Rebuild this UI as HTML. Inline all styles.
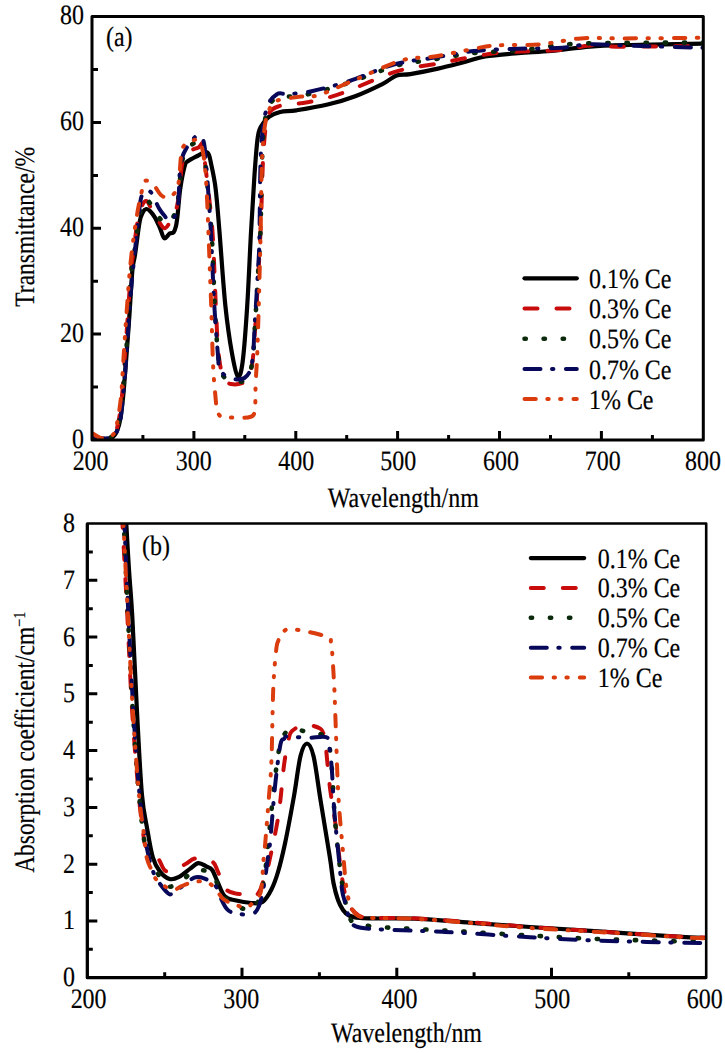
<!DOCTYPE html>
<html><head><meta charset="utf-8"><style>
html,body{margin:0;padding:0;background:#fff;width:725px;height:1053px;overflow:hidden}
svg{display:block}
text{font-family:"Liberation Serif", serif;fill:#000;stroke:#000;stroke-width:0.2px;text-rendering:geometricPrecision}
</style></head><body>
<svg width="725" height="1053" viewBox="0 0 725 1053">
<defs>
<clipPath id="ca"><rect x="92" y="17" width="611" height="423"/></clipPath>
<clipPath id="cb"><rect x="87.5" y="523.5" width="618" height="454"/></clipPath>
</defs>
<path d="M92.0,436.0 C93.7,436.5 98.5,438.8 102.0,439.0 C105.5,439.2 110.2,439.3 113.0,437.0 C115.8,434.7 117.3,431.5 119.0,425.0 C120.7,418.5 121.8,409.7 123.0,398.0 C124.2,386.3 125.4,369.0 126.5,355.0 C127.6,341.0 128.5,328.2 129.5,314.0 C130.5,299.8 131.5,279.8 132.4,270.0 C133.3,260.2 133.8,263.0 135.0,255.0 C136.2,247.0 138.3,229.2 139.6,222.0 C140.9,214.8 141.9,214.2 143.0,212.0 C144.1,209.8 145.1,209.2 146.3,209.0 C147.5,208.8 148.6,209.6 150.0,211.0 C151.4,212.4 153.3,214.8 155.0,217.6 C156.7,220.4 158.4,224.6 160.0,228.0 C161.6,231.4 162.7,237.3 164.3,238.2 C165.9,239.1 168.1,234.6 169.6,233.6 C171.1,232.6 172.5,233.6 173.6,232.3 C174.7,231.0 175.3,228.9 176.0,226.0 C176.7,223.1 176.9,221.3 177.6,215.0 C178.3,208.7 179.1,196.6 180.3,188.4 C181.5,180.2 183.5,170.2 184.8,165.6 C186.1,161.0 185.9,162.7 188.2,161.0 C190.5,159.3 196.2,156.6 198.5,155.3 C200.8,154.1 200.7,154.1 202.0,153.5 C203.3,152.9 205.3,151.8 206.5,152.0 C207.7,152.2 208.2,153.1 209.0,155.0 C209.8,156.9 209.9,157.7 211.0,163.3 C212.1,168.9 214.2,177.0 215.6,188.4 C217.0,199.8 217.9,212.4 219.5,232.0 C221.1,251.6 223.3,285.8 225.4,306.0 C227.5,326.2 229.9,341.7 232.0,353.4 C234.1,365.1 235.9,374.6 237.7,376.2 C239.4,377.8 240.9,374.6 242.5,362.9 C244.1,351.2 245.8,327.8 247.2,306.0 C248.6,284.2 249.8,253.9 251.0,232.0 C252.2,210.1 253.4,190.5 254.5,174.8 C255.6,159.1 256.6,145.8 257.7,137.7 C258.8,129.6 259.1,130.0 261.0,126.5 C262.9,123.0 265.8,119.2 269.0,116.8 C272.2,114.4 275.7,113.1 280.3,112.0 C284.9,110.9 288.6,111.5 296.5,110.3 C304.4,109.0 317.8,106.8 327.6,104.5 C337.4,102.2 346.0,99.7 355.2,96.2 C364.4,92.8 375.9,87.2 382.8,83.8 C389.7,80.3 392.0,77.1 396.6,75.5 C401.2,73.9 403.4,75.2 410.3,74.1 C417.2,72.9 428.7,70.7 437.9,68.6 C447.1,66.5 457.6,63.7 465.5,61.7 C473.4,59.7 476.4,57.9 485.2,56.5 C494.0,55.1 507.3,54.1 518.3,53.2 C529.3,52.3 539.4,52.1 551.4,51.0 C563.4,49.9 576.9,47.6 590.0,46.6 C603.1,45.6 611.2,45.5 630.0,45.0 C648.8,44.5 690.8,43.8 703.0,43.6" fill="none" stroke="#000000" stroke-width="4.2" stroke-linecap="round" stroke-linejoin="round" clip-path="url(#ca)"/>
<path d="M92.0,434.0 C93.7,434.8 98.5,438.2 102.0,438.5 C105.5,438.8 110.3,438.4 113.0,436.0 C115.7,433.6 116.5,430.7 118.0,424.0 C119.5,417.3 120.8,407.5 122.0,396.0 C123.2,384.5 124.0,368.8 125.0,355.0 C126.0,341.2 127.0,327.2 128.0,313.0 C129.0,298.8 130.2,279.7 131.0,270.0 C131.8,260.3 132.0,262.5 133.0,255.0 C134.0,247.5 135.7,232.8 137.0,225.0 C138.3,217.2 139.4,212.0 141.0,208.0 C142.6,204.0 144.5,200.7 146.3,201.0 C148.1,201.3 150.1,206.8 152.0,210.0 C153.9,213.2 155.9,216.9 158.0,220.0 C160.1,223.1 162.3,228.0 164.3,228.3 C166.3,228.6 168.1,225.1 170.0,222.0 C171.9,218.9 174.5,214.7 176.0,210.0 C177.5,205.3 178.0,201.5 179.0,194.0 C180.0,186.5 180.8,171.8 182.0,165.0 C183.2,158.2 183.2,155.9 186.0,153.0 C188.8,150.1 195.7,148.9 198.5,147.4 C201.3,145.9 201.9,141.0 203.0,144.0 C204.1,147.0 204.1,155.3 205.3,165.6 C206.5,175.8 208.7,193.1 210.0,205.5 C211.3,217.9 212.0,222.6 213.0,240.0 C214.0,257.4 215.1,291.2 216.0,310.0 C216.9,328.8 217.3,342.0 218.5,353.0 C219.7,364.0 220.9,370.8 223.0,376.0 C225.1,381.2 227.1,383.2 231.0,384.0 C234.9,384.8 242.7,384.2 246.2,381.0 C249.7,377.8 250.5,373.5 252.0,365.0 C253.5,356.5 254.0,344.2 255.0,330.0 C256.0,315.8 257.0,298.3 258.0,280.0 C259.0,261.7 260.2,240.0 261.0,220.0 C261.8,200.0 262.2,175.6 263.0,160.0 C263.8,144.4 264.7,134.5 265.8,126.5 C266.9,118.5 267.7,115.4 269.8,112.0 C271.9,108.6 275.1,107.6 278.7,106.3 C282.3,105.0 286.8,104.6 291.6,103.9 C296.4,103.2 299.4,104.0 307.7,102.3 C316.0,100.5 326.6,98.6 341.4,93.4 C356.2,88.2 380.0,76.5 396.6,71.4 C413.2,66.4 428.1,65.6 441.0,63.1 C453.9,60.6 463.1,58.3 474.1,56.5 C485.1,54.7 492.5,53.2 507.2,52.1 C521.9,51.0 548.6,51.0 562.4,49.9 C576.2,48.8 580.1,45.9 590.0,45.4 C599.9,44.9 603.2,46.7 622.0,46.7 C640.8,46.8 689.5,45.9 703.0,45.7" fill="none" stroke="#c80c0c" stroke-width="4.0" stroke-linecap="round" stroke-linejoin="round" stroke-dasharray="13 19" clip-path="url(#ca)"/>
<path d="M92.0,434.5 C93.7,435.2 98.5,438.2 102.0,438.5 C105.5,438.8 110.2,438.4 113.0,436.0 C115.8,433.6 116.9,430.7 118.5,424.0 C120.1,417.3 121.2,407.5 122.5,396.0 C123.8,384.5 125.0,368.8 126.0,355.0 C127.0,341.2 127.9,326.8 128.7,313.5 C129.5,300.2 130.1,284.8 131.0,275.0 C131.9,265.2 132.8,263.3 134.0,255.0 C135.2,246.7 136.7,233.3 138.0,225.0 C139.3,216.7 140.6,209.2 142.0,205.0 C143.4,200.8 144.6,199.4 146.3,199.6 C148.0,199.8 149.7,202.8 152.0,206.0 C154.3,209.2 157.6,216.2 160.3,219.0 C163.0,221.8 165.4,224.3 168.0,223.0 C170.6,221.7 174.2,216.2 176.0,211.0 C177.8,205.8 178.0,200.2 179.0,192.0 C180.0,183.8 180.5,169.3 182.0,162.0 C183.5,154.7 185.4,151.4 188.0,148.0 C190.6,144.6 194.9,142.7 197.4,141.7 C199.9,140.7 201.7,138.1 203.0,142.0 C204.3,145.9 204.5,155.0 205.5,165.0 C206.5,175.0 207.9,189.5 209.0,202.0 C210.1,214.5 211.0,222.0 212.0,240.0 C213.0,258.0 214.0,291.2 215.0,310.0 C216.0,328.8 216.8,342.3 218.0,353.0 C219.2,363.7 219.7,369.3 222.0,374.0 C224.3,378.7 228.2,380.0 232.0,381.0 C235.8,382.0 241.7,382.8 245.0,380.0 C248.3,377.2 250.3,373.2 252.0,364.0 C253.7,354.8 254.0,339.8 255.0,325.0 C256.0,310.2 257.1,290.8 258.0,275.0 C258.9,259.2 259.8,249.2 260.5,230.0 C261.2,210.8 261.1,179.2 262.0,160.0 C262.9,140.8 263.5,125.4 266.0,115.0 C268.5,104.6 271.3,100.6 277.0,97.4 C282.7,94.2 288.7,98.2 300.0,96.0 C311.3,93.8 329.2,89.0 345.0,84.0 C360.8,79.0 380.8,70.0 395.0,66.0 C409.2,62.0 416.8,62.2 430.0,60.0 C443.2,57.8 459.4,54.6 474.1,53.0 C488.8,51.4 500.5,52.1 518.3,50.5 C536.1,48.9 549.9,44.9 580.7,43.6 C611.5,42.3 682.6,42.8 703.0,42.6" fill="none" stroke="#0b2a0b" stroke-width="4.6" stroke-linecap="round" stroke-linejoin="round" stroke-dasharray="1.3 17.8" clip-path="url(#ca)"/>
<path d="M92.0,435.0 C93.7,435.6 98.5,438.3 102.0,438.5 C105.5,438.7 110.1,438.4 113.0,436.0 C115.9,433.6 117.9,430.6 119.6,424.0 C121.3,417.4 121.8,407.9 123.0,396.4 C124.2,384.9 125.5,368.8 126.5,355.0 C127.5,341.2 128.4,324.6 129.2,313.8 C129.9,303.0 130.2,299.0 131.0,290.0 C131.8,281.0 133.0,269.7 134.0,260.0 C135.0,250.3 135.8,242.3 137.0,232.0 C138.2,221.7 139.5,204.8 141.0,198.3 C142.5,191.8 144.3,194.0 146.0,193.0 C147.7,192.0 148.8,189.8 151.0,192.3 C153.2,194.9 156.8,204.5 159.0,208.3 C161.2,212.1 162.2,213.0 164.0,215.0 C165.8,217.0 167.3,221.4 169.6,220.3 C171.9,219.2 175.6,218.4 177.6,208.3 C179.6,198.2 178.5,171.9 181.4,160.0 C184.3,148.1 191.8,140.8 195.0,137.0 C198.2,133.2 199.3,135.8 200.8,137.0 C202.3,138.2 203.2,138.7 204.2,144.0 C205.1,149.3 205.7,159.7 206.5,169.0 C207.3,178.3 208.1,189.0 208.8,199.8 C209.6,210.6 210.1,217.3 211.0,234.0 C211.9,250.7 212.9,280.2 214.0,300.0 C215.1,319.8 216.8,341.4 217.8,353.0 C218.8,364.6 218.0,365.3 220.0,369.5 C222.0,373.7 225.9,376.6 230.0,378.0 C234.1,379.4 240.7,380.5 244.4,378.0 C248.1,375.5 250.2,372.7 252.0,363.0 C253.8,353.3 254.0,335.5 255.0,320.0 C256.0,304.5 257.3,283.3 258.0,270.0 C258.7,256.7 258.9,259.9 259.4,240.0 C259.9,220.1 259.8,172.5 261.0,150.6 C262.2,128.7 263.9,118.1 266.6,108.7 C269.3,99.3 273.4,96.6 277.0,94.2 C280.6,91.8 282.5,94.7 288.4,94.2 C294.3,93.7 302.4,93.2 312.6,91.0 C322.8,88.8 336.2,85.4 349.7,81.0 C363.2,76.6 379.7,68.4 393.8,64.5 C407.9,60.6 421.0,59.9 434.4,57.6 C447.8,55.4 460.1,52.5 474.1,51.0 C488.1,49.5 503.6,49.3 518.3,48.8 C533.0,48.2 550.4,48.5 562.4,47.7 C574.4,47.0 578.3,44.6 590.0,44.3 C601.7,44.0 613.6,45.1 632.4,45.7 C651.2,46.3 691.2,47.4 703.0,47.8" fill="none" stroke="#08085a" stroke-width="4.0" stroke-linecap="round" stroke-linejoin="round" stroke-dasharray="16 11.5 1.4 12.5" clip-path="url(#ca)"/>
<path d="M92.0,433.0 C93.7,433.9 98.8,438.2 102.4,438.4 C106.0,438.6 111.0,436.7 113.4,434.3 C115.8,431.9 115.6,430.3 116.9,424.0 C118.2,417.7 119.9,407.9 121.0,396.4 C122.1,384.9 122.8,368.8 123.7,355.0 C124.6,341.2 125.6,326.3 126.5,313.8 C127.4,301.3 128.1,290.6 129.0,280.0 C129.9,269.4 130.7,260.8 132.0,250.0 C133.3,239.2 135.5,224.2 137.0,215.0 C138.5,205.8 139.7,200.7 141.0,195.0 C142.3,189.3 142.9,182.7 145.0,181.0 C147.1,179.3 150.9,182.7 153.6,185.0 C156.2,187.3 158.4,192.9 160.9,195.0 C163.4,197.1 165.8,198.3 168.3,197.6 C170.9,196.9 174.4,193.9 176.2,191.0 C178.0,188.1 177.9,187.1 179.0,180.0 C180.1,172.9 180.2,155.1 182.5,148.5 C184.8,141.9 189.9,141.6 192.8,140.5 C195.7,139.4 198.1,138.8 200.0,142.0 C201.9,145.2 203.1,152.3 204.2,160.0 C205.3,167.7 205.8,176.1 206.5,188.4 C207.2,200.7 207.8,215.4 208.5,234.0 C209.2,252.6 210.2,278.5 211.0,300.0 C211.8,321.5 212.3,347.8 213.0,363.0 C213.7,378.2 214.2,383.2 215.0,391.4 C215.8,399.6 216.1,408.0 217.8,412.3 C219.5,416.6 220.0,416.2 225.4,417.0 C230.8,417.8 245.1,418.4 250.0,417.0 C254.9,415.6 253.9,414.3 254.8,408.5 C255.8,402.7 255.2,392.8 255.7,382.0 C256.2,371.2 256.8,368.1 257.6,344.0 C258.4,319.9 259.8,268.3 260.5,237.6 C261.2,206.9 261.2,178.8 262.0,160.0 C262.8,141.2 263.7,133.7 265.0,125.0 C266.3,116.3 268.0,112.1 270.0,108.0 C272.0,103.9 271.8,102.5 277.0,100.6 C282.2,98.7 294.3,97.5 301.3,96.6 C308.3,95.7 310.0,97.8 319.0,95.0 C328.0,92.2 341.4,85.5 355.2,79.7 C369.0,73.9 388.8,64.2 402.0,60.3 C415.2,56.4 422.4,58.4 434.4,56.5 C446.4,54.6 463.8,50.6 474.1,48.8 C484.4,46.9 485.1,46.1 496.2,45.4 C507.2,44.6 526.3,45.5 540.4,44.3 C554.5,43.1 567.1,39.4 580.7,38.4 C594.3,37.4 601.6,38.5 622.0,38.4 C642.4,38.3 689.5,37.9 703.0,37.8" fill="none" stroke="#db3c0e" stroke-width="4.0" stroke-linecap="round" stroke-linejoin="round" stroke-dasharray="11.3 11.5 1.4 11.4 1.4 12" clip-path="url(#ca)"/>
<rect x="92.0" y="16.6" width="611.3" height="423.4" fill="none" stroke="#000" stroke-width="3" stroke-linejoin="round"/>
<path d="M142.9,440.0 V435.0 M193.9,440.0 V431.0 M244.8,440.0 V435.0 M295.8,440.0 V431.0 M346.7,440.0 V435.0 M397.6,440.0 V431.0 M448.6,440.0 V435.0 M499.5,440.0 V431.0 M550.5,440.0 V435.0 M601.4,440.0 V431.0 M652.4,440.0 V435.0 M92.0,387.1 H98.0 M92.0,334.1 H101.0 M92.0,281.2 H98.0 M92.0,228.3 H101.0 M92.0,175.4 H98.0 M92.0,122.4 H101.0 M92.0,69.5 H98.0" stroke="#000" stroke-width="3" fill="none"/>
<text transform="translate(84.00,447.80) scale(0.855,1)" text-anchor="end" font-size="28">0</text>
<text transform="translate(84.00,341.95) scale(0.855,1)" text-anchor="end" font-size="28">20</text>
<text transform="translate(84.00,236.10) scale(0.855,1)" text-anchor="end" font-size="28">40</text>
<text transform="translate(84.00,130.25) scale(0.855,1)" text-anchor="end" font-size="28">60</text>
<text transform="translate(84.00,24.40) scale(0.855,1)" text-anchor="end" font-size="28">80</text>
<text transform="translate(90.60,470.30) scale(0.855,1)" text-anchor="middle" font-size="28">200</text>
<text transform="translate(193.80,470.30) scale(0.855,1)" text-anchor="middle" font-size="28">300</text>
<text transform="translate(296.20,470.30) scale(0.855,1)" text-anchor="middle" font-size="28">400</text>
<text transform="translate(398.30,470.30) scale(0.855,1)" text-anchor="middle" font-size="28">500</text>
<text transform="translate(501.00,470.30) scale(0.855,1)" text-anchor="middle" font-size="28">600</text>
<text transform="translate(602.70,470.30) scale(0.855,1)" text-anchor="middle" font-size="28">700</text>
<text transform="translate(703.00,470.30) scale(0.855,1)" text-anchor="middle" font-size="28">800</text>
<text transform="translate(403.30,507.40) scale(0.855,1)" text-anchor="middle" font-size="28">Wavelength/nm</text>
<text transform="translate(34,226.8) rotate(-90) scale(0.84,1)" text-anchor="middle" font-size="28">Transmittance/%</text>
<text transform="translate(106.00,46.20) scale(0.855,1)" text-anchor="start" font-size="28">(a)</text>
<path d="M524.5,278.3 H576.8" stroke="#000000" stroke-width="4.2" stroke-linecap="round" fill="none"/>
<text transform="translate(589.00,288.00) scale(0.855,1)" text-anchor="start" font-size="28">0.1% Ce</text>
<path d="M524.5,308.5 H576.8" stroke="#c80c0c" stroke-width="4.0" stroke-linecap="round" stroke-dasharray="13 19" fill="none"/>
<text transform="translate(589.00,318.20) scale(0.855,1)" text-anchor="start" font-size="28">0.3% Ce</text>
<path d="M524.5,338.7 H576.8" stroke="#0b2a0b" stroke-width="4.6" stroke-linecap="round" stroke-dasharray="1.3 17.8" fill="none"/>
<text transform="translate(589.00,348.40) scale(0.855,1)" text-anchor="start" font-size="28">0.5% Ce</text>
<path d="M524.5,368.9 H576.8" stroke="#08085a" stroke-width="4.0" stroke-linecap="round" stroke-dasharray="16 11.5 1.4 12.5" fill="none"/>
<text transform="translate(589.00,378.60) scale(0.855,1)" text-anchor="start" font-size="28">0.7% Ce</text>
<path d="M524.5,399.1 H576.8" stroke="#db3c0e" stroke-width="4.0" stroke-linecap="round" stroke-dasharray="11.3 11.5 1.4 11.4 1.4 12" fill="none"/>
<text transform="translate(589.00,408.80) scale(0.855,1)" text-anchor="start" font-size="28">1% Ce</text>
<path d="M125.8,515.0 C126.3,524.2 127.9,553.0 129.0,570.0 C130.1,587.0 131.0,592.9 132.3,616.8 C133.7,640.7 135.5,683.9 137.1,713.5 C138.7,743.1 140.2,774.8 141.9,794.2 C143.6,813.6 145.6,819.4 147.4,830.0 C149.2,840.6 150.8,850.7 152.9,857.6 C155.0,864.5 157.0,867.8 159.8,871.4 C162.6,875.0 166.3,878.1 169.5,879.0 C172.7,879.9 175.7,878.6 179.1,876.9 C182.5,875.2 187.0,870.9 190.2,868.6 C193.4,866.3 195.7,863.4 198.4,863.1 C201.2,862.8 204.4,865.5 206.7,866.6 C209.0,867.8 210.3,867.4 212.2,870.0 C214.0,872.6 215.7,878.0 217.8,882.4 C219.9,886.8 221.8,893.2 224.7,896.2 C227.6,899.2 230.5,899.2 235.0,900.3 C239.5,901.4 246.9,902.7 251.5,903.0 C256.1,903.3 259.2,904.1 262.5,901.9 C265.8,899.7 268.7,894.7 271.3,889.7 C273.9,884.7 275.7,879.7 278.0,872.0 C280.3,864.3 282.3,856.2 285.0,843.5 C287.7,830.8 291.4,810.6 294.0,796.0 C296.6,781.4 298.3,764.8 300.5,756.0 C302.7,747.2 304.8,743.5 307.0,743.5 C309.2,743.5 311.2,746.6 313.5,756.0 C315.8,765.4 317.8,783.2 320.5,800.0 C323.2,816.8 327.6,843.0 329.8,856.8 C332.0,870.6 332.1,875.8 333.5,883.0 C334.9,890.2 336.4,895.5 338.0,900.0 C339.6,904.5 341.2,907.4 343.0,910.0 C344.8,912.6 346.2,914.2 349.0,915.5 C351.8,916.8 354.8,917.5 360.0,918.0 C365.2,918.5 370.2,918.4 380.0,918.5 C389.8,918.6 403.4,918.1 418.6,918.8 C433.8,919.5 452.4,921.4 471.0,922.8 C489.6,924.2 508.7,925.6 530.0,927.0 C551.3,928.4 574.1,929.8 598.6,931.4 C623.1,933.0 659.3,935.6 677.2,936.7 C695.1,937.8 701.2,937.8 706.0,938.0" fill="none" stroke="#000000" stroke-width="4.2" stroke-linecap="round" stroke-linejoin="round" clip-path="url(#cb)"/>
<path d="M122.0,515.0 C122.9,532.0 125.7,583.7 127.4,616.8 C129.1,649.9 130.4,683.9 132.3,713.5 C134.2,743.1 136.9,774.1 138.7,794.2 C140.5,814.3 142.1,825.3 143.3,834.0 C144.5,842.7 143.5,842.4 146.0,846.6 C148.5,850.8 155.0,854.9 158.4,859.0 C161.8,863.1 162.3,870.5 166.7,871.4 C171.1,872.3 179.9,866.7 184.7,864.5 C189.5,862.3 191.1,858.8 195.7,858.3 C200.3,857.8 208.5,859.5 212.2,861.7 C215.9,863.9 215.7,867.0 217.8,871.4 C219.9,875.8 221.8,884.3 224.7,888.0 C227.6,891.7 231.6,892.4 235.0,893.4 C238.4,894.4 242.2,893.5 245.3,894.0 C248.4,894.5 251.2,897.0 253.7,896.3 C256.2,895.6 258.1,894.5 260.3,889.7 C262.5,884.9 265.4,872.2 266.9,867.7 C268.3,863.2 267.1,871.3 269.0,862.5 C270.9,853.7 276.0,831.5 278.5,815.0 C281.0,798.5 282.5,776.2 284.2,763.7 C285.9,751.2 287.2,745.5 288.5,740.0 C289.8,734.5 289.2,733.5 292.0,731.0 C294.8,728.5 300.4,725.2 305.1,724.8 C309.8,724.4 317.2,726.7 320.3,728.6 C323.4,730.5 323.1,732.7 324.0,736.0 C324.9,739.3 325.0,740.1 326.0,748.5 C327.0,756.9 328.2,773.8 329.8,786.5 C331.4,799.2 333.6,810.2 335.5,824.5 C337.4,838.8 339.3,859.3 341.2,872.0 C343.1,884.7 344.4,893.5 346.9,900.5 C349.4,907.5 353.4,911.0 356.4,913.8 C359.4,916.6 361.1,916.8 365.0,917.5 C368.9,918.2 371.1,917.8 380.0,918.0 C388.9,918.2 403.4,917.8 418.6,918.5 C433.8,919.2 452.4,920.9 471.0,922.3 C489.6,923.7 508.7,925.5 530.0,927.0 C551.3,928.5 574.1,929.8 598.6,931.4 C623.1,933.0 659.3,935.5 677.2,936.5 C695.1,937.5 701.2,937.3 706.0,937.5" fill="none" stroke="#c80c0c" stroke-width="4.0" stroke-linecap="round" stroke-linejoin="round" stroke-dasharray="13 19" clip-path="url(#cb)"/>
<path d="M123.5,515.0 C124.2,532.0 126.4,583.7 128.0,616.8 C129.6,649.9 131.2,683.9 133.0,713.5 C134.8,743.1 136.8,771.5 139.0,794.2 C141.2,817.0 143.2,837.6 146.0,850.0 C148.8,862.4 152.5,862.6 155.7,868.6 C158.9,874.6 161.4,883.5 165.3,885.9 C169.2,888.3 174.2,885.6 179.1,883.1 C184.0,880.6 189.5,872.2 195.0,870.7 C200.5,869.2 207.7,870.1 212.2,874.1 C216.7,878.1 218.2,889.9 222.0,895.0 C225.8,900.1 230.3,902.5 235.0,905.0 C239.7,907.5 246.2,910.5 250.0,910.0 C253.8,909.5 255.7,907.0 258.0,902.0 C260.3,897.0 262.3,889.5 264.0,880.0 C265.7,870.5 266.3,860.5 268.0,845.0 C269.7,829.5 272.0,803.5 274.0,787.0 C276.0,770.5 277.4,755.5 280.0,746.0 C282.6,736.5 284.7,732.0 289.4,729.7 C294.1,727.4 302.2,731.0 308.3,732.4 C314.4,733.8 322.3,732.4 326.2,737.8 C330.1,743.2 330.1,752.1 331.5,765.0 C332.9,777.9 333.3,798.8 334.6,815.0 C335.9,831.2 337.7,848.7 339.3,862.0 C340.9,875.3 342.4,886.2 344.0,895.0 C345.6,903.8 347.2,910.3 349.0,915.0 C350.8,919.7 349.9,921.0 355.0,923.0 C360.1,925.0 364.3,925.8 379.3,927.0 C394.3,928.2 419.7,929.1 444.8,930.5 C469.9,931.9 504.4,934.1 530.0,935.5 C555.6,936.9 569.3,937.9 598.6,939.0 C627.9,940.1 688.1,941.5 706.0,942.0" fill="none" stroke="#0b2a0b" stroke-width="4.6" stroke-linecap="round" stroke-linejoin="round" stroke-dasharray="1.3 17.8" clip-path="url(#cb)"/>
<path d="M124.0,515.0 C124.8,532.0 126.9,583.7 128.5,616.8 C130.1,649.9 131.7,683.9 133.5,713.5 C135.3,743.1 137.6,774.0 139.5,794.2 C141.4,814.5 143.7,825.6 145.0,835.0 C146.3,844.4 146.3,845.3 147.4,850.7 C148.5,856.1 150.0,862.4 151.6,867.2 C153.2,872.0 154.3,875.3 157.1,879.7 C159.8,884.1 165.6,891.1 168.1,893.4 C170.6,895.7 169.9,894.5 172.2,893.4 C174.5,892.3 178.2,889.2 181.9,886.6 C185.6,884.0 190.6,879.0 194.3,877.6 C198.0,876.2 200.6,877.0 204.0,878.3 C207.4,879.6 212.2,882.0 215.0,885.2 C217.8,888.4 218.5,893.6 220.5,897.6 C222.5,901.6 224.4,906.5 227.0,909.1 C229.6,911.8 231.8,912.7 236.0,913.5 C240.2,914.3 248.2,915.2 252.0,914.0 C255.8,912.8 257.0,910.8 259.0,906.0 C261.0,901.2 262.5,893.2 264.0,885.0 C265.5,876.8 267.0,864.0 268.0,857.0 C269.0,850.0 268.8,854.8 270.0,843.0 C271.2,831.2 273.3,802.9 275.0,786.5 C276.7,770.1 278.9,752.6 280.4,744.7 C281.9,736.8 282.7,740.4 284.0,739.0 C285.3,737.6 284.2,736.4 288.0,736.2 C291.8,736.0 300.7,737.9 307.0,738.0 C313.3,738.1 322.3,735.9 326.0,737.1 C329.7,738.3 328.1,739.9 329.0,745.0 C329.9,750.1 330.8,755.8 331.7,767.5 C332.6,779.2 333.3,799.2 334.6,815.0 C335.9,830.8 338.1,850.0 339.3,862.5 C340.5,875.0 341.1,883.1 342.0,889.7 C342.9,896.3 343.9,897.6 345.0,902.0 C346.1,906.4 346.9,912.2 348.6,916.2 C350.3,920.2 350.1,923.9 355.2,926.1 C360.3,928.3 364.4,928.3 379.3,929.3 C394.2,930.3 419.7,930.6 444.8,931.9 C469.9,933.2 504.4,935.8 530.0,937.2 C555.6,938.7 569.3,939.6 598.6,940.6 C627.9,941.6 688.1,942.8 706.0,943.2" fill="none" stroke="#08085a" stroke-width="4.0" stroke-linecap="round" stroke-linejoin="round" stroke-dasharray="16 11.5 1.4 12.5" clip-path="url(#cb)"/>
<path d="M123.0,515.0 C123.8,532.0 126.3,583.7 128.0,616.8 C129.7,649.9 131.2,683.9 133.0,713.5 C134.8,743.1 137.2,774.0 139.0,794.2 C140.8,814.5 142.7,824.4 144.0,835.0 C145.3,845.6 145.4,851.8 146.7,857.6 C148.0,863.4 149.9,866.2 151.6,870.0 C153.3,873.8 153.7,877.0 157.1,880.3 C160.5,883.6 168.3,889.0 172.2,890.0 C176.1,891.0 176.8,888.0 180.5,886.6 C184.2,885.2 189.9,882.4 194.3,881.7 C198.7,881.0 203.2,881.4 206.7,882.4 C210.1,883.4 212.2,885.2 215.0,888.0 C217.8,890.8 220.0,896.2 223.3,899.0 C226.6,901.8 231.1,903.1 235.0,904.5 C238.9,905.9 243.5,908.4 247.0,907.4 C250.5,906.4 253.5,901.4 255.8,898.6 C258.1,895.8 259.7,897.3 261.0,890.8 C262.3,884.2 262.9,867.2 263.6,859.3 C264.3,851.4 264.3,854.0 265.2,843.5 C266.1,833.0 267.9,810.0 269.0,796.0 C270.1,782.0 270.8,777.4 271.5,759.3 C272.2,741.2 272.5,705.8 273.3,687.6 C274.1,669.4 275.4,657.8 276.2,650.0 C277.0,642.2 277.4,643.3 278.2,641.0 C279.0,638.7 279.4,638.0 281.0,636.0 C282.6,634.0 283.0,630.0 287.7,629.3 C292.4,628.6 302.4,630.6 309.2,632.0 C316.0,633.4 324.9,635.8 328.5,637.5 C332.1,639.2 330.4,639.9 331.0,642.0 C331.6,644.1 331.4,642.4 332.0,650.0 C332.6,657.6 333.7,675.9 334.3,687.6 C334.9,699.3 334.8,701.9 335.5,720.0 C336.2,738.1 337.1,773.8 338.4,796.0 C339.7,818.2 341.7,837.2 343.1,853.0 C344.5,868.8 345.3,881.5 346.9,891.0 C348.5,900.5 350.2,905.7 352.6,910.0 C355.0,914.3 356.4,915.7 361.0,917.0 C365.6,918.3 370.4,917.7 380.0,918.0 C389.6,918.3 403.4,918.2 418.6,919.0 C433.8,919.8 452.4,921.5 471.0,923.0 C489.6,924.5 508.7,926.5 530.0,928.0 C551.3,929.5 574.1,930.5 598.6,932.0 C623.1,933.5 659.3,935.9 677.2,937.0 C695.1,938.1 701.2,938.2 706.0,938.5" fill="none" stroke="#db3c0e" stroke-width="4.0" stroke-linecap="round" stroke-linejoin="round" stroke-dasharray="11.3 11.5 1.4 11.4 1.4 12" clip-path="url(#cb)"/>
<path d="M87.3,523.5 H706.2 V977.7 H87.3 Z" fill="none" stroke="#000" stroke-width="2.6" stroke-linejoin="round"/>
<path d="M87.3,523.5 V977.7 H706.2" fill="none" stroke="#000" stroke-width="3.2" stroke-linejoin="round"/>
<path d="M164.7,977.7 V972.2 M242.0,977.7 V967.7 M319.4,977.7 V972.2 M396.8,977.7 V967.7 M474.1,977.7 V972.2 M551.5,977.7 V967.7 M628.8,977.7 V972.2 M87.3,949.3 H92.8 M87.3,920.9 H97.3 M87.3,892.5 H92.8 M87.3,864.2 H97.3 M87.3,835.8 H92.8 M87.3,807.4 H97.3 M87.3,779.0 H92.8 M87.3,750.6 H97.3 M87.3,722.2 H92.8 M87.3,693.8 H97.3 M87.3,665.4 H92.8 M87.3,637.0 H97.3 M87.3,608.7 H92.8 M87.3,580.3 H97.3 M87.3,551.9 H92.8" stroke="#000" stroke-width="3" fill="none"/>
<text transform="translate(75.00,986.20) scale(0.855,1)" text-anchor="end" font-size="28">0</text>
<text transform="translate(75.00,929.43) scale(0.855,1)" text-anchor="end" font-size="28">1</text>
<text transform="translate(75.00,872.65) scale(0.855,1)" text-anchor="end" font-size="28">2</text>
<text transform="translate(75.00,815.88) scale(0.855,1)" text-anchor="end" font-size="28">3</text>
<text transform="translate(75.00,759.10) scale(0.855,1)" text-anchor="end" font-size="28">4</text>
<text transform="translate(75.00,702.33) scale(0.855,1)" text-anchor="end" font-size="28">5</text>
<text transform="translate(75.00,645.55) scale(0.855,1)" text-anchor="end" font-size="28">6</text>
<text transform="translate(75.00,588.77) scale(0.855,1)" text-anchor="end" font-size="28">7</text>
<text transform="translate(75.00,532.00) scale(0.855,1)" text-anchor="end" font-size="28">8</text>
<text transform="translate(88.60,1007.50) scale(0.855,1)" text-anchor="middle" font-size="28">200</text>
<text transform="translate(241.20,1007.50) scale(0.855,1)" text-anchor="middle" font-size="28">300</text>
<text transform="translate(399.50,1007.50) scale(0.855,1)" text-anchor="middle" font-size="28">400</text>
<text transform="translate(552.20,1007.50) scale(0.855,1)" text-anchor="middle" font-size="28">500</text>
<text transform="translate(704.80,1007.50) scale(0.855,1)" text-anchor="middle" font-size="28">600</text>
<text transform="translate(406.50,1042.40) scale(0.855,1)" text-anchor="middle" font-size="28">Wavelength/nm</text>
<text transform="translate(34.2,872.8) rotate(-90) scale(0.836,1)" text-anchor="start" font-size="28">Absorption coefficient/cm<tspan font-size="17" dy="-9.5">−1</tspan></text>
<text transform="translate(142.00,555.20) scale(0.855,1)" text-anchor="start" font-size="28">(b)</text>
<path d="M530.8,558.1 H584.2" stroke="#000000" stroke-width="4.2" stroke-linecap="round" fill="none"/>
<text transform="translate(597.80,567.60) scale(0.855,1)" text-anchor="start" font-size="28">0.1% Ce</text>
<path d="M530.8,588.0 H584.2" stroke="#c80c0c" stroke-width="4.0" stroke-linecap="round" stroke-dasharray="13 19" fill="none"/>
<text transform="translate(597.80,597.45) scale(0.855,1)" text-anchor="start" font-size="28">0.3% Ce</text>
<path d="M530.8,617.8 H584.2" stroke="#0b2a0b" stroke-width="4.6" stroke-linecap="round" stroke-dasharray="1.3 17.8" fill="none"/>
<text transform="translate(597.80,627.30) scale(0.855,1)" text-anchor="start" font-size="28">0.5% Ce</text>
<path d="M530.8,647.7 H584.2" stroke="#08085a" stroke-width="4.0" stroke-linecap="round" stroke-dasharray="16 11.5 1.4 12.5" fill="none"/>
<text transform="translate(597.80,657.15) scale(0.855,1)" text-anchor="start" font-size="28">0.7% Ce</text>
<path d="M530.8,677.5 H584.2" stroke="#db3c0e" stroke-width="4.0" stroke-linecap="round" stroke-dasharray="11.3 11.5 1.4 11.4 1.4 12" fill="none"/>
<text transform="translate(597.80,687.00) scale(0.855,1)" text-anchor="start" font-size="28">1% Ce</text>
</svg>
</body></html>
